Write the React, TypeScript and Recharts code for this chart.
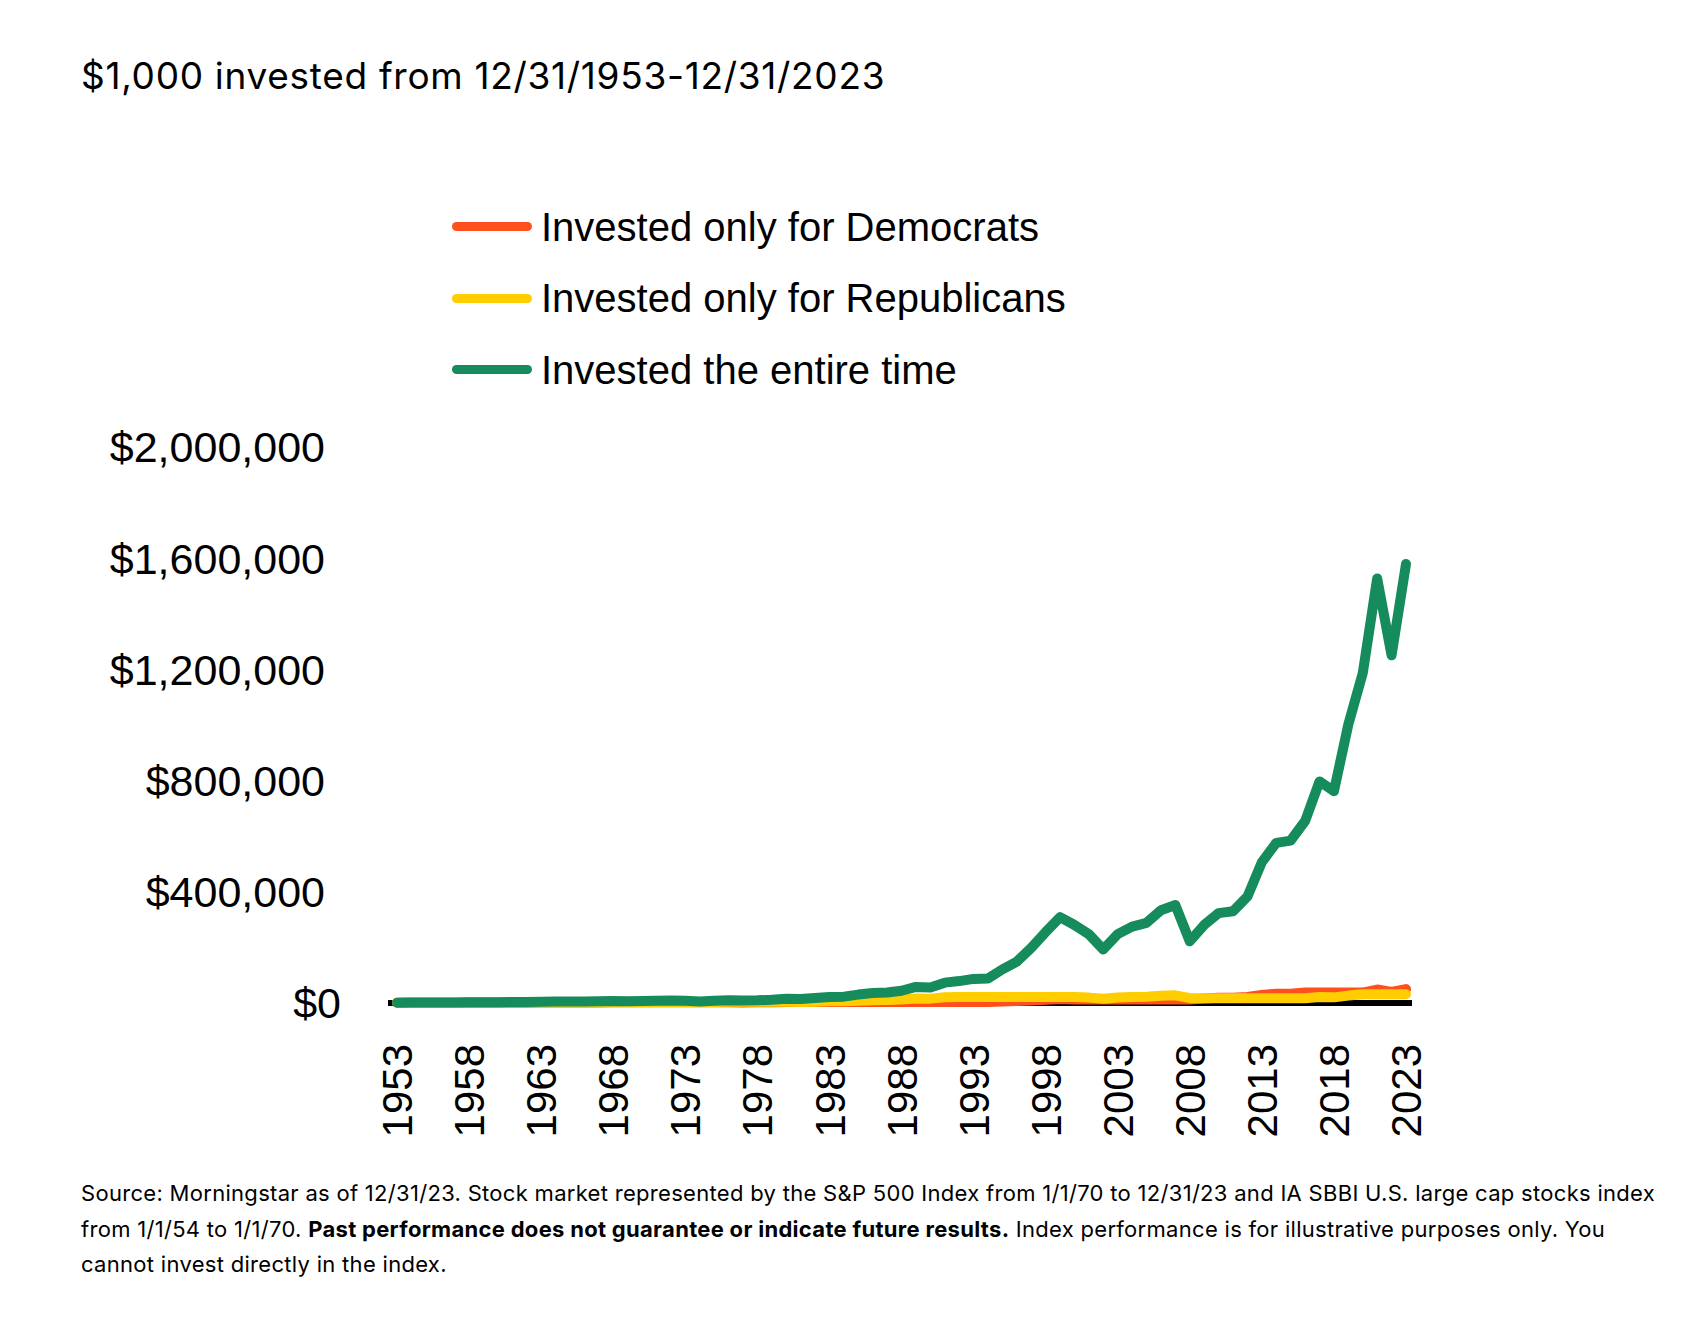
import React from 'react';
import { LineChart, Line, XAxis, YAxis } from 'recharts';

const years = [
  1953, 1954, 1955, 1956, 1957, 1958, 1959, 1960, 1961, 1962, 1963, 1964, 1965, 1966, 1967, 1968,
  1969, 1970, 1971, 1972, 1973, 1974, 1975, 1976, 1977, 1978, 1979, 1980, 1981, 1982, 1983, 1984,
  1985, 1986, 1987, 1988, 1989, 1990, 1991, 1992, 1993, 1994, 1995, 1996, 1997, 1998, 1999, 2000,
  2001, 2002, 2003, 2004, 2005, 2006, 2007, 2008, 2009, 2010, 2011, 2012, 2013, 2014, 2015, 2016,
  2017, 2018, 2019, 2020, 2021, 2022, 2023,
];

const entireTime = [
  1000, 1526, 2008, 2141, 1910, 2739, 3068, 3083, 3912, 3572, 4386, 5110, 5749, 5168, 6409, 7120,
  6515, 6775, 7744, 9215, 7861, 5778, 7927, 9814, 9107, 9708, 11494, 15218, 14472, 17569, 21522, 22878,
  30245, 35840, 37704, 44038, 57910, 56115, 73230, 78795, 86753, 87881, 120924, 148737, 198415, 255162, 308746, 280650,
  247253, 192610, 247890, 274910, 288380, 333944, 352310, 221955, 280773, 323170, 329957, 382750, 506760, 576186, 584253, 654363,
  797014, 761945, 1002058, 1186437, 1526944, 1250567, 1579466,
];

const democrats = [
  1000, 1000, 1000, 1000, 1000, 1000, 1000, 1000, 1269, 1159, 1423, 1657, 1865, 1676, 2079, 2310,
  2310, 2310, 2310, 2310, 2310, 2310, 2310, 2310, 2143, 2285, 2705, 3582, 3582, 3582, 3582, 3582,
  3582, 3582, 3582, 3582, 3582, 3582, 3582, 3582, 3944, 3995, 5497, 6762, 9020, 11600, 14036, 12759,
  12759, 12759, 12759, 12759, 12759, 12759, 12759, 12759, 16140, 18577, 18967, 22002, 29131, 33122, 33586, 37616,
  37616, 37616, 37616, 37616, 48412, 39649, 50077,
];

const republicans = [
  1000, 1526, 2008, 2141, 1910, 2739, 3068, 3083, 3083, 3083, 3083, 3083, 3083, 3083, 3083, 3083,
  2821, 2934, 3353, 3991, 3404, 2502, 3433, 4250, 4250, 4250, 4250, 4250, 4042, 4907, 6011, 6390,
  8447, 10010, 10531, 12300, 16174, 15673, 20453, 22008, 22008, 22008, 22008, 22008, 22008, 22008, 22008, 22008,
  19389, 15104, 19439, 21558, 22614, 26187, 27627, 17405, 17405, 17405, 17405, 17405, 17405, 17405, 17405, 17405,
  21199, 20267, 26651, 31554, 31554, 31554, 31554,
];

const xTicks = [1953, 1958, 1963, 1968, 1973, 1978, 1983, 1988, 1993, 1998, 2003, 2008, 2013, 2018, 2023];
const yTicks = [0, 400000, 800000, 1200000, 1600000, 2000000];

const series = [
  { key: 'dem', name: 'Invested only for Democrats', color: '#FF4F1F' },
  { key: 'rep', name: 'Invested only for Republicans', color: '#FFCD00' },
  { key: 'all', name: 'Invested the entire time', color: '#168B5B' },
];

const data = years.map((year, i) => ({
  year,
  dem: democrats[i],
  rep: republicans[i],
  all: entireTime[i],
}));

const ARIAL = '"Liberation Sans", Arial, Helvetica, sans-serif';
const BODY = 'Inter, "Noto Sans", sans-serif';

const fmtMoney = (v: number) => '$' + v.toLocaleString('en-US');

const YTick = (props: any) => {
  const { x, y, payload } = props;
  const shift = payload.value === 0 ? -47 : -63;
  return (
    <text x={x + shift} y={y} dy="0.36em" textAnchor="end" fontSize={43} fontFamily={ARIAL} fill="#000">
      {fmtMoney(payload.value)}
    </text>
  );
};

const XTick = (props: any) => {
  const { x, y, payload } = props;
  return (
    <text
      transform={`translate(${x},${y + 41}) rotate(-90)`}
      x={0}
      y={0}
      dy="0.36em"
      textAnchor="end"
      fontSize={42}
      fontFamily={ARIAL}
      fill="#000"
    >
      {payload.value}
    </text>
  );
};

export default function App() {
  return (
    <div style={{ position: 'absolute', left: 0, top: 0, width: 1697, height: 1322, background: '#fff', overflow: 'hidden' }}>
      <div
        style={{
          position: 'absolute',
          left: 81,
          top: 54,
          fontFamily: BODY,
          fontSize: 37,
          letterSpacing: 0.7,
          lineHeight: '44px',
          color: '#000',
          whiteSpace: 'nowrap',
        }}
      >
        $1,000 invested from 12/31/1953-12/31/2023
      </div>

      <div style={{ position: 'absolute', left: 0, top: 0, width: 1697, height: 1322 }}>
        <LineChart width={1697} height={1322} data={data} margin={{ top: 447, right: 285, bottom: 179, left: 88 }}>
          <XAxis
            dataKey="year"
            type="category"
            ticks={xTicks}
            interval={0}
            padding={{ left: 9, right: 6 }}
            axisLine={{ stroke: '#000', strokeWidth: 6 }}
            tickLine={false}
            tickSize={0}
            tickMargin={0}
            height={140}
            tick={<XTick />}
            zIndex={0}
          />
          <YAxis
            type="number"
            domain={[0, 2000000]}
            ticks={yTicks}
            interval={0}
            width={300}
            axisLine={false}
            tickLine={false}
            tickSize={0}
            tickMargin={0}
            tick={<YTick />}
          />
          {series.map((s) => (
            <Line
              key={s.key}
              type="linear"
              dataKey={s.key}
              name={s.name}
              stroke={s.color}
              strokeWidth={10}
              strokeLinecap="round"
              strokeLinejoin="round"
              dot={false}
              activeDot={false}
              isAnimationActive={false}
            />
          ))}
        </LineChart>
      </div>

      <div style={{ position: 'absolute', left: 452, top: 191, fontFamily: ARIAL, color: '#000' }}>
        {series.map((s) => (
          <div key={s.key} style={{ display: 'flex', alignItems: 'center', height: 71.5 }}>
            <div style={{ width: 80, height: 9, borderRadius: 5, background: s.color, marginRight: 9 }} />
            <div style={{ fontSize: 40, lineHeight: '46px', whiteSpace: 'nowrap' }}>{s.name}</div>
          </div>
        ))}
      </div>

      <div
        style={{
          position: 'absolute',
          left: 81,
          top: 1176,
          fontFamily: BODY,
          fontSize: 22,
          letterSpacing: 0.3,
          lineHeight: '35.5px',
          color: '#000',
          whiteSpace: 'nowrap',
        }}
      >
        Source: Morningstar as of 12/31/23. Stock market represented by the S&amp;P 500 Index from 1/1/70 to 12/31/23 and IA SBBI U.S. large cap stocks index
        <br />
        from 1/1/54 to 1/1/70. <b>Past performance does not guarantee or indicate future results.</b> Index performance is for illustrative purposes only. You
        <br />
        cannot invest directly in the index.
      </div>
    </div>
  );
}
